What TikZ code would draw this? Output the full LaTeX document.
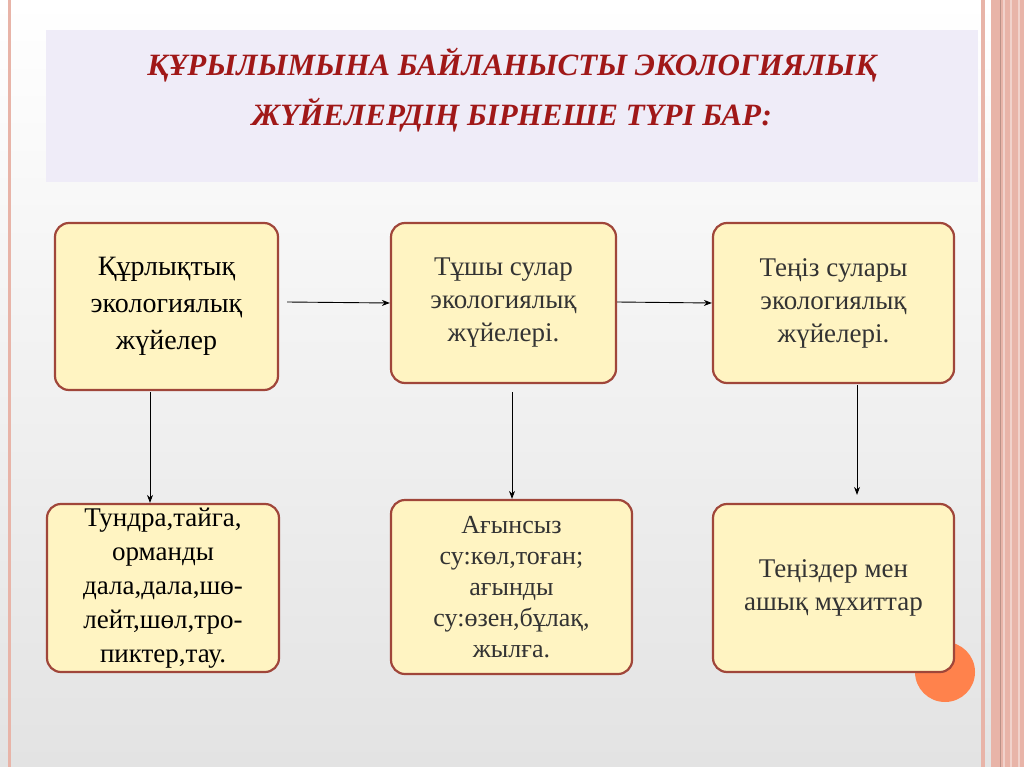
\documentclass[tikz,border=0pt]{standalone}
\usepackage{fontspec}
\setmainfont{Liberation Serif}
\usetikzlibrary{arrows.meta}
\begin{document}
\begin{tikzpicture}[x=1pt,y=-1pt,
 box/.style={draw=boxline,line width=2.2pt,fill=boxfill,rounded corners=14pt,align=center,inner sep=0pt},
 arr/.style={-{Stealth[length=8pt,width=6pt]},line width=0.9pt}]
\definecolor{boxfill}{HTML}{FFF4C2}
\definecolor{boxline}{HTML}{A0463A}
\definecolor{stripe}{HTML}{E8B4A8}
\definecolor{ttl}{HTML}{A01818}
\useasboundingbox (0,0) rectangle (1024,767);
\shade[top color=white,bottom color=gray!22] (0,0) rectangle (1024,767);
\fill[stripe] (8,0) rectangle (11,767);
\fill[stripe] (981,0) rectangle (985,767);
\fill[stripe] (991,0) rectangle (1024,767);
\fill[stripe!80!black] (999.5,0) rectangle (1001,767);
\fill[white!40!stripe] (1003,0) rectangle (1005,767);
\fill[white!40!stripe] (1010,0) rectangle (1012,767);
\fill[white!40!stripe] (1018,0) rectangle (1020,767);
\fill[cyan!8!blue!6!white] (46,30) rectangle (978,182);
\node[font=\bfseries\itshape\fontsize{31}{50}\selectfont,text=ttl,align=center] (title) at (512,90) {ҚҰРЫЛЫМЫНА БАЙЛАНЫСТЫ ЭКОЛОГИЯЛЫҚ\\ ЖҮЙЕЛЕРДІҢ БІРНЕШЕ ТҮРІ БАР:};
\fill[orange!60!red!70!white] (945,672) circle (30);
\tikzset{t1/.style={font=\fontsize{28}{37}\selectfont},t2/.style={font=\fontsize{27}{33}\selectfont,text=black!80}}
\node[box,t1,minimum width=223pt,minimum height=167pt] (b1) at (166.5,306.5) {Құрлықтық\\экологиялық\\жүйелер};
\node[box,t2,minimum width=225pt,minimum height=160pt] (b2) at (503.5,303) {Тұшы сулар\\экологиялық\\жүйелері.};
\node[box,t2,minimum width=241pt,minimum height=160pt] (b3) at (833.5,303) {Теңіз сулары\\экологиялық\\жүйелері.};
\node[box,font=\fontsize{27}{34}\selectfont,minimum width=232pt,minimum height=168pt] (b4) at (163,588) {Тундра,тайга,\\орманды\\дала,дала,шө-\\лейт,шөл,тро-\\пиктер,тау.};
\node[box,t2,font=\fontsize{26}{31}\selectfont,minimum width=241pt,minimum height=174pt] (b5) at (511.5,587) {Ағынсыз\\су:көл,тоған;\\ағынды\\су:өзен,бұлақ,\\жылға.};
\node[box,t2,minimum width=241pt,minimum height=168pt] (b6) at (833.5,588) {Теңіздер мен\\ашық мұхиттар};
\coordinate (a1) at (287,302);
\coordinate (a2) at (617,302);
\coordinate (a3) at (150,392);
\coordinate (a4) at (512,392);
\coordinate (a5) at (857,385);
\draw[arr] (a1) -- (b2.west);
\draw[arr] (a2) -- (b3.west);
\draw[arr] (a3) -- (a3 |- b4.north);
\draw[arr] (a4) -- (a4 |- b5.north);
\draw[arr] (a5) -- ([yshift=8pt]a5 |- b6.north);
\end{tikzpicture}
\end{document}
